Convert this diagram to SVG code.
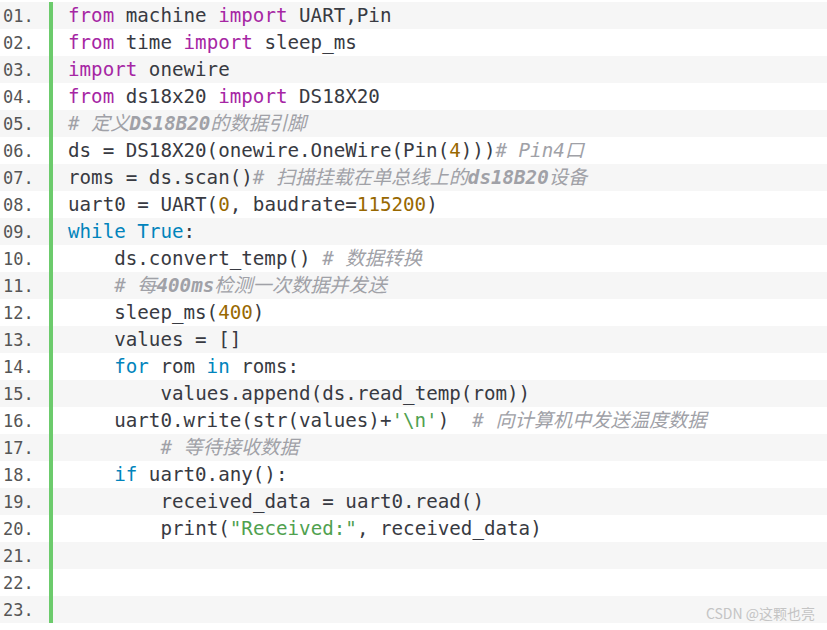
<svg xmlns="http://www.w3.org/2000/svg" width="827" height="630" viewBox="0 0 827 630">
<style>
.g{fill:#f6f6f6}
.n{font-family:"DejaVu Sans Mono","Liberation Mono",monospace;font-size:17px;fill:#555}
.c{font-family:"DejaVu Sans Mono","Noto Sans CJK SC",monospace;font-size:19.2px;fill:#383a42;white-space:pre}
.k{fill:#a626a4}.b{fill:#0184bc}.d{fill:#986801}.s{fill:#50a14f}
.m{fill:#a0a1a7;font-style:italic}.bo{font-weight:bold}
</style>
<rect width="827" height="630" fill="#fff"/>
<g id="stripes">
<rect class="g" x="0" y="2" width="827" height="27"/><rect class="g" x="0" y="56" width="827" height="27"/>
<rect class="g" x="0" y="110" width="827" height="27"/><rect class="g" x="0" y="164" width="827" height="27"/>
<rect class="g" x="0" y="218" width="827" height="27"/><rect class="g" x="0" y="272" width="827" height="27"/>
<rect class="g" x="0" y="326" width="827" height="27"/><rect class="g" x="0" y="380" width="827" height="27"/>
<rect class="g" x="0" y="434" width="827" height="27"/><rect class="g" x="0" y="488" width="827" height="27"/>
<rect class="g" x="0" y="542" width="827" height="27"/><rect class="g" x="0" y="596" width="827" height="27"/>
</g>
<rect x="49" y="2" width="4" height="621" fill="#6ccb6c"/>
<g id="numbers" class="n">
<text x="3" y="22">01.</text><text x="3" y="49">02.</text><text x="3" y="76">03.</text><text x="3" y="103">04.</text><text x="3" y="130">05.</text><text x="3" y="157">06.</text><text x="3" y="184">07.</text><text x="3" y="211">08.</text><text x="3" y="238">09.</text><text x="3" y="265">10.</text><text x="3" y="292">11.</text><text x="3" y="319">12.</text><text x="3" y="346">13.</text><text x="3" y="373">14.</text><text x="3" y="400">15.</text><text x="3" y="427">16.</text><text x="3" y="454">17.</text><text x="3" y="481">18.</text><text x="3" y="508">19.</text><text x="3" y="535">20.</text><text x="3" y="562">21.</text><text x="3" y="589">22.</text><text x="3" y="616">23.</text>
</g>
<g id="code" class="c">
<text x="68" y="22"><tspan class="k">from</tspan> machine <tspan class="k">import</tspan> UART,Pin</text>
<text x="68" y="49"><tspan class="k">from</tspan> time <tspan class="k">import</tspan> sleep_ms</text>
<text x="68" y="76"><tspan class="k">import</tspan> onewire</text>
<text x="68" y="103"><tspan class="k">from</tspan> ds18x20 <tspan class="k">import</tspan> DS18X20</text>
<text x="68" y="130" class="m"># 定义<tspan class="bo">DS18B20</tspan>的数据引脚</text>
<text x="68" y="157">ds = DS18X20(onewire.OneWire(Pin(<tspan class="d">4</tspan>)))<tspan class="m"># Pin4口</tspan></text>
<text x="68" y="184">roms = ds.scan()<tspan class="m"># 扫描挂载在单总线上的<tspan class="bo">ds18B20</tspan>设备</tspan></text>
<text x="68" y="211">uart0 = UART(<tspan class="d">0</tspan>, baudrate=<tspan class="d">115200</tspan>)</text>
<text x="68" y="238"><tspan class="b">while</tspan> <tspan class="b">True</tspan>:</text>
<text x="114.2" y="265">ds.convert_temp() <tspan class="m"># 数据转换</tspan></text>
<text x="114.2" y="292" class="m"># 每<tspan class="bo">400ms</tspan>检测一次数据并发送</text>
<text x="114.2" y="319">sleep_ms(<tspan class="d">400</tspan>)</text>
<text x="114.2" y="346">values = []</text>
<text x="114.2" y="373"><tspan class="b">for</tspan> rom <tspan class="b">in</tspan> roms:</text>
<text x="160.5" y="400">values.append(ds.read_temp(rom))</text>
<text x="114.2" y="427">uart0.write(str(values)+<tspan class="s">'\n'</tspan>)&#160; <tspan class="m"># 向计算机中发送温度数据</tspan></text>
<text x="160.5" y="454" class="m"># 等待接收数据</text>
<text x="114.2" y="481"><tspan class="b">if</tspan> uart0.any():</text>
<text x="160.5" y="508">received_data = uart0.read()</text>
<text x="160.5" y="535">print(<tspan class="s">"Received:"</tspan>, received_data)</text>
</g>
<text x="815" y="619" text-anchor="end" font-family="'Noto Sans CJK SC',sans-serif" font-size="14" fill="#c4c4c4">CSDN @这颗也亮</text>
</svg>
